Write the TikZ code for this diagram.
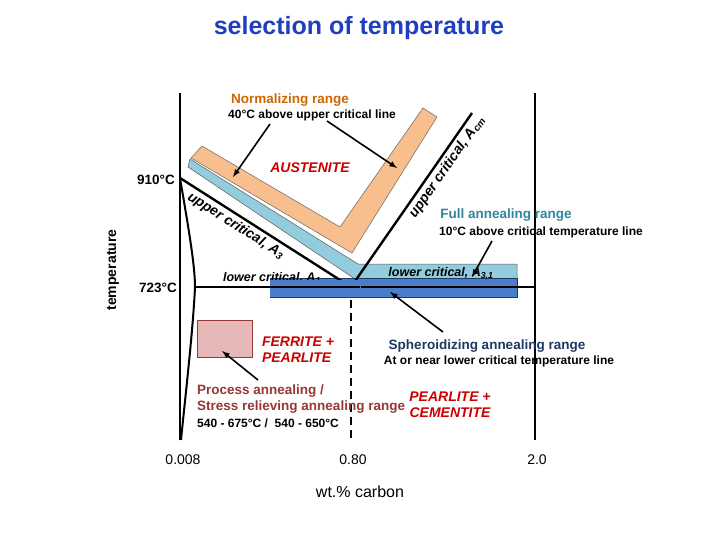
\documentclass[tikz,border=0pt]{standalone}
\usepackage{fontspec}
\setmainfont{Liberation Sans}
\begin{document}
\begin{tikzpicture}[x=1pt,y=-1pt,
  ax/.style={line width=2.4pt},
  arr/.style={line width=1.6pt,-latex},
  lbl/.style={font=\bfseries\fontsize{12}{13}\selectfont,inner sep=0},
  big/.style={font=\bfseries\fontsize{13.5}{15}\selectfont,inner sep=0},
  phase/.style={font=\bfseries\itshape\fontsize{14}{16}\selectfont,text=red!80!black,align=left,inner sep=0},
  crit/.style={font=\bfseries\itshape\fontsize{14}{15}\selectfont,inner sep=0}]
\useasboundingbox (0,0) rectangle (720,540);
\definecolor{orng}{HTML}{F9BE8E}
\definecolor{lblue}{HTML}{93CDDD}
\definecolor{dblue}{HTML}{4A7EC8}
\definecolor{pinkf}{HTML}{E6B9B8}
\definecolor{titleb}{HTML}{1F3FBF}
\definecolor{teal}{HTML}{31859C}
\definecolor{navy}{HTML}{1F3864}
\definecolor{brn}{HTML}{953735}
\node[font=\bfseries\fontsize{25}{28}\selectfont,text=titleb] (title) at (359,28) {selection of temperature};
% bands
\draw[draw=gray!70!black,fill=lblue,line width=0.5pt] (190,159)--(358,264)--(517,264)--(517,279)--(355,279)--(188,167)--cycle;
\draw[draw=gray!80!black,fill=orng,line width=0.5pt] (202,146)--(340,227)--(423,108)--(437,117)--(352,253)--(191,158)--cycle;
\draw[draw=navy,fill=dblue,line width=0.6pt] (270,278) rectangle (517,297);
\draw[draw=brn,fill=pinkf,line width=1pt] (197,320) rectangle (252,357);
% axes and lines
\coordinate (t910) at (180,178);
\coordinate (eut) at (351,287);
\draw[ax] (180,93)--(180,440);
\draw[ax] (535,93)--(535,440);
\draw[ax] (t910)--(eut);
\draw[ax] (eut)--(472,113);
\draw[ax] (195,287)--(535,287);
\draw[line width=2pt] (t910) .. controls (188,225) and (195,265) .. (195,287) .. controls (193,330) and (186,390) .. (181,440);
\draw[line width=2.2pt,dash pattern=on 8pt off 5pt] (eut)--(351,440);
% labels
\node[big,text=orange!80!black] (norm) at (290,100) {Normalizing range};
\node[lbl] (norm2) at (312,115) {40\textdegree C above upper critical line};
\draw[arr] (270,124)--(233,177);
\draw[arr] (327,121)--(397,168);
\node[phase] (aus) at (310,168) {AUSTENITE};
\node[crit,rotate=55] (acm) at (447,167) {upper critical, A\textsubscript{cm}};
\node[crit,rotate=-32.5] (a3) at (236,226) {upper critical, A\textsubscript{3}};
\node[big] (t1) at (156,180) {910\textdegree C};
\node[big] (t2) at (158,288) {723\textdegree C};
\node[big,rotate=90,font=\bfseries\fontsize{14}{15}\selectfont] (temp) at (113,270) {temperature};
\node[crit,font=\bfseries\itshape\fontsize{12.5}{14}\selectfont] (l1) at (272,278) {lower critical, A\textsubscript{1}};
\node[crit,font=\bfseries\itshape\fontsize{12.5}{14}\selectfont] (l2) at (441,274) {lower critical, A\textsubscript{3,1}};
\draw[dblue,fill=dblue] (270,280.5) rectangle (360,296);
\draw[ax] (270,287)--(360,287);
\node[big,text=teal] (full) at (506,215) {Full annealing range};
\node[lbl] (full2) at (541,232) {10\textdegree C above critical temperature line};
\draw[arr] (492,241)--(472,277);
\node[big,text=navy] (sph) at (487,346) {Spheroidizing annealing range};
\node[lbl] (sph2) at (499,361) {At or near lower critical temperature line};
\draw[arr] (443,332)--(390,292);
\node[phase] (fp) at (298,350) {FERRITE +\\PEARLITE};
\draw[arr] (258,380)--(222,351);
\node[big,text=brn,anchor=west] (pa) at (197,391) {Process annealing /};
\node[big,text=brn,anchor=west] (pa2) at (197,407) {Stress relieving annealing range};
\node[lbl,anchor=west] (pa3) at (197,423) {540 - 675\textdegree C /\ \ 540 - 650\textdegree C};
\node[phase,align=center] (pc) at (450,405) {PEARLITE +\\CEMENTITE};
\node[big,font=\fontsize{14}{15}\selectfont] (x1) at (183,460) {0.008};
\node[big,font=\fontsize{14}{15}\selectfont] (x2) at (353,460) {0.80};
\node[big,font=\fontsize{14}{15}\selectfont] (x3) at (537,460) {2.0};
\node[big,font=\fontsize{16}{18}\selectfont] (xl) at (360,492) {wt.\% carbon};
\end{tikzpicture}
\end{document}
